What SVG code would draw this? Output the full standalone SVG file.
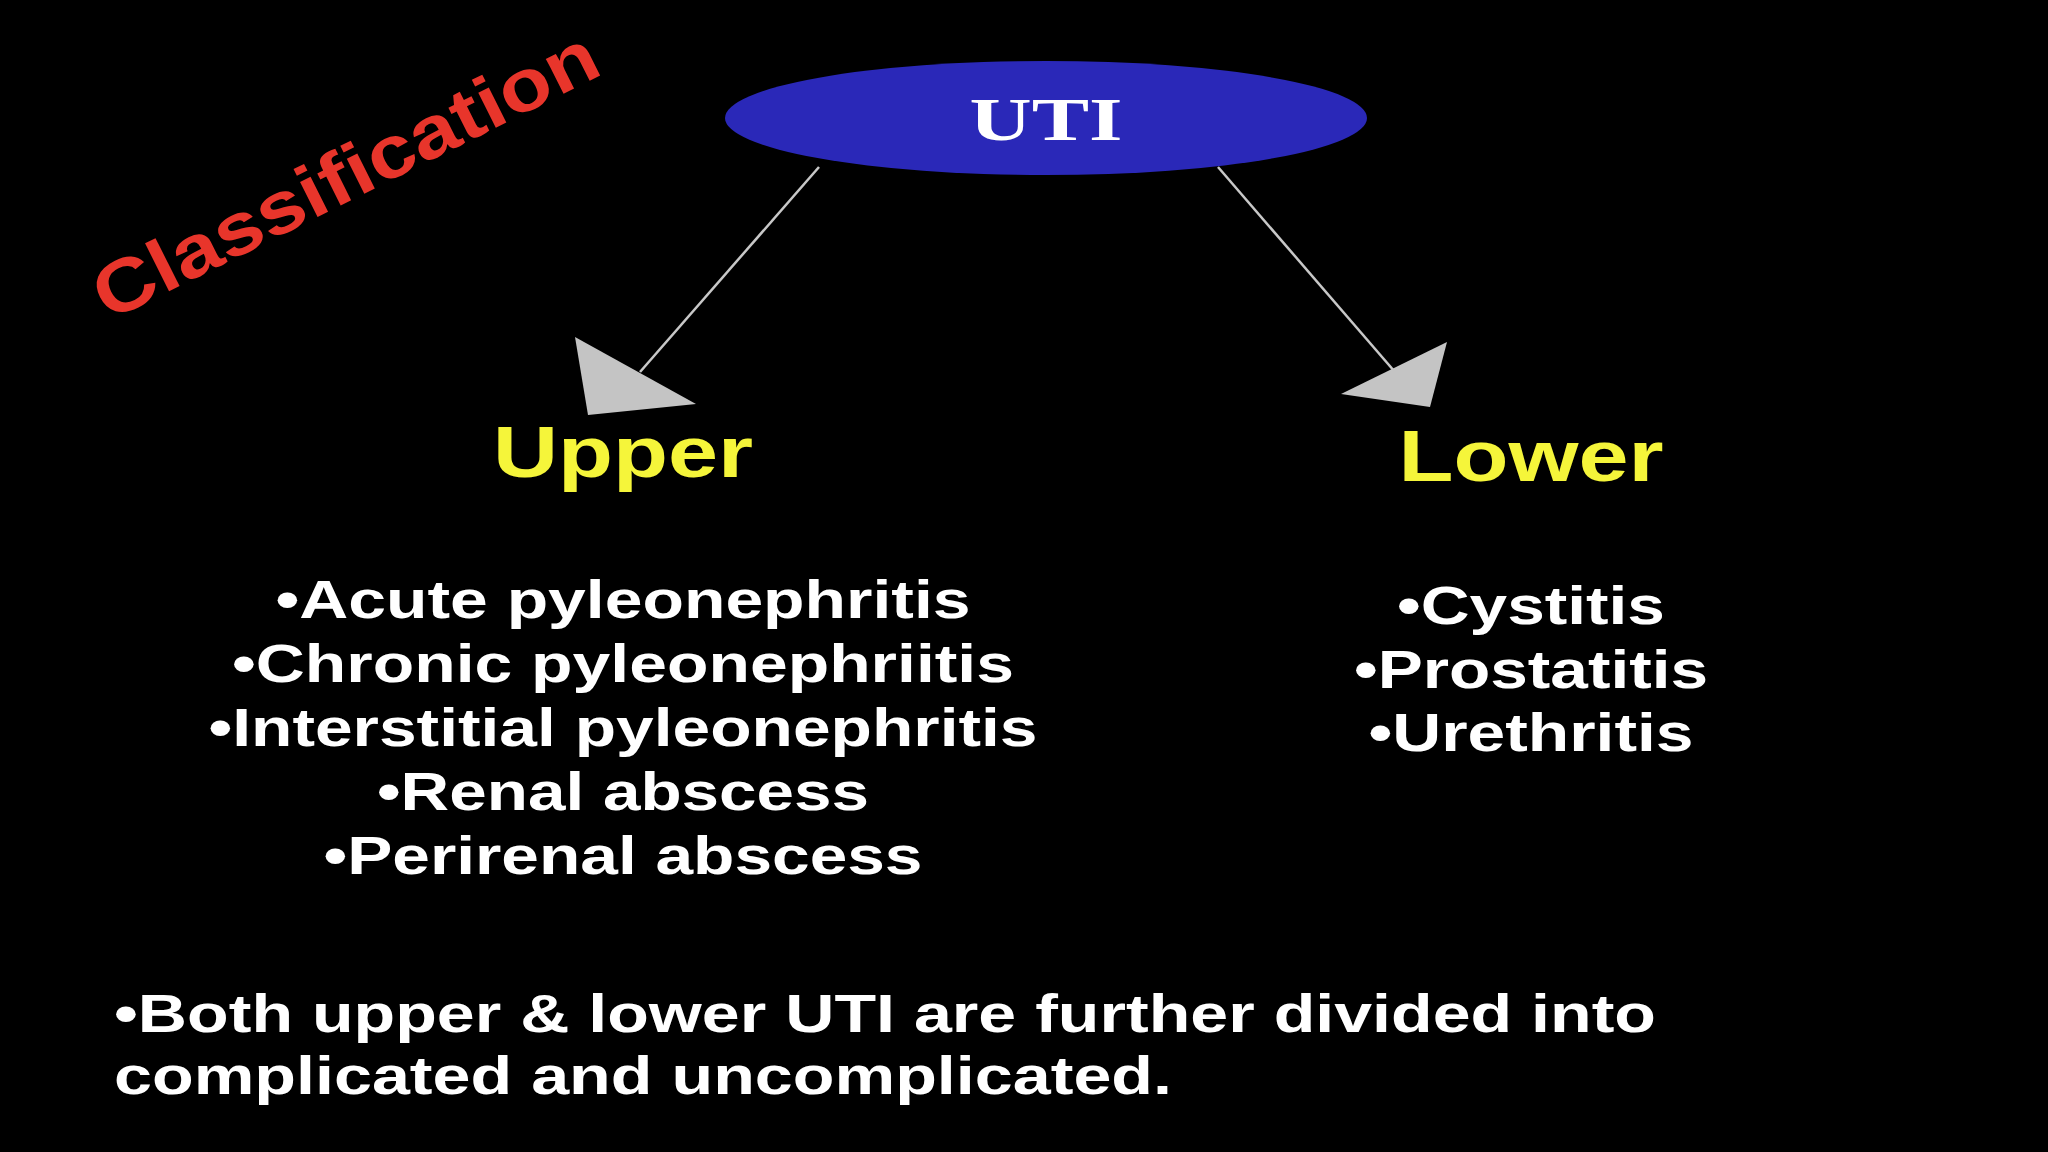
<svg xmlns="http://www.w3.org/2000/svg" width="2048" height="1152" viewBox="0 0 2048 1152">
<style>
.t{font-family:"Liberation Sans",Arial,sans-serif;font-weight:bold;fill:#fff;font-size:54px}
.h{font-family:"Liberation Sans",Arial,sans-serif;font-weight:bold;fill:#f5f53a;font-size:72px;text-anchor:middle}
.c{text-anchor:middle}
.ln{stroke:#c8c8c8;stroke-width:2.5}
.hd{fill:#c4c4c4}
</style>
<rect width="2048" height="1152" fill="#000"/>
<g id="title"><text x="346" y="200" transform="rotate(-26.6 346 176)" text-anchor="middle" font-family="Liberation Sans,Arial,sans-serif" font-weight="bold" font-size="74" fill="#e8352b" textLength="555" lengthAdjust="spacingAndGlyphs">Classification</text></g>
<g id="uti"><ellipse cx="1046" cy="118" rx="321" ry="57" fill="#2a28b8"/><text x="1046" y="140" text-anchor="middle" font-family="Liberation Serif,serif" font-weight="bold" font-size="62" fill="#fff" textLength="153" lengthAdjust="spacingAndGlyphs">UTI</text></g>
<g id="connectors">
<line class="ln" x1="819" y1="167" x2="640" y2="372"/>
<polygon class="hd" points="575,337 696,404 588,415"/>
<line class="ln" x1="1218" y1="167" x2="1395" y2="372"/>
<polygon class="hd" points="1447,342 1430,407 1341,394"/>
</g>
<g id="upper"><text class="h" x="623" y="477" textLength="260" lengthAdjust="spacingAndGlyphs">Upper</text>
<text class="t c" x="623" y="618" textLength="695" lengthAdjust="spacingAndGlyphs">•Acute pyleonephritis</text>
<text class="t c" x="623" y="682" textLength="782" lengthAdjust="spacingAndGlyphs">•Chronic pyleonephriitis</text>
<text class="t c" x="623" y="746" textLength="829" lengthAdjust="spacingAndGlyphs">•Interstitial pyleonephritis</text>
<text class="t c" x="623" y="810" textLength="492" lengthAdjust="spacingAndGlyphs">•Renal abscess</text>
<text class="t c" x="623" y="874" textLength="599" lengthAdjust="spacingAndGlyphs">•Perirenal abscess</text></g>
<g id="lower"><text class="h" x="1531" y="481" textLength="265" lengthAdjust="spacingAndGlyphs">Lower</text>
<text class="t c" x="1531" y="624" textLength="268" lengthAdjust="spacingAndGlyphs">•Cystitis</text>
<text class="t c" x="1531" y="688" textLength="354" lengthAdjust="spacingAndGlyphs">•Prostatitis</text>
<text class="t c" x="1531" y="751" textLength="325" lengthAdjust="spacingAndGlyphs">•Urethritis</text></g>
<g id="note"><text class="t" x="114" y="1032" textLength="1542" lengthAdjust="spacingAndGlyphs">•Both upper &amp; lower UTI are further divided into</text>
<text class="t" x="114" y="1094" textLength="1058" lengthAdjust="spacingAndGlyphs">complicated and uncomplicated.</text></g>
</svg>
